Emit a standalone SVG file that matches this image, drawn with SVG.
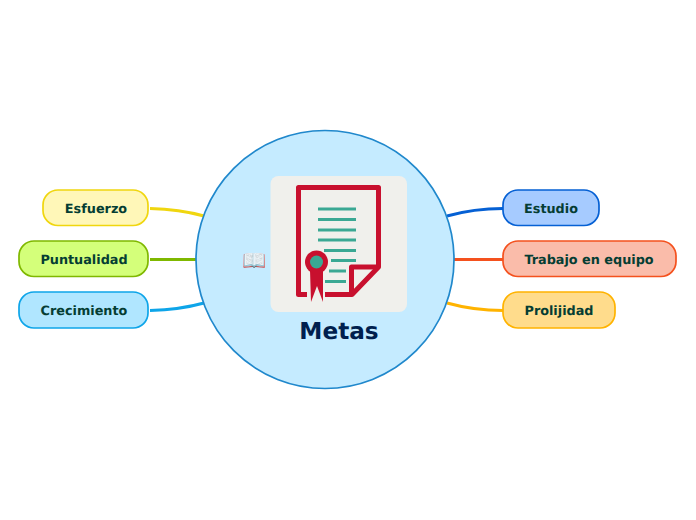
<svg xmlns="http://www.w3.org/2000/svg" width="696" height="520" viewBox="0 0 696 520">
<style>
.n{stroke-width:1.700}
.t{font-family:"DejaVu Sans",sans-serif;font-weight:700;font-size:12.800px;fill:#053d33;text-rendering:geometricPrecision}
.c{fill:none;stroke-width:3}
.l{stroke:#3aa893;stroke-width:2.800;fill:none}
</style>
<rect width="696" height="520" fill="#fff"/>
<g id="connectors">
<path class="c" stroke="#f0d60f" d="M150 208.500C170 209 186 211 204 216"/>
<path class="c" stroke="#7fb800" d="M150 259.500H197"/>
<path class="c" stroke="#0ea5e9" d="M150 310.500C170 310 186 308 204 303"/>
<path class="c" stroke="#0560d4" d="M447 216C465 211 482 208.500 503 208.500"/>
<path class="c" stroke="#f4511e" d="M454 259.500H503"/>
<path class="c" stroke="#ffb300" d="M447 303C465 308 482 310.500 503 310.500"/>
</g>
<g id="center">
<circle cx="325" cy="259.500" r="129" fill="#c5ebff" stroke="#2088cc" stroke-width="1.700"/>
<rect x="270.500" y="176" width="136.500" height="136" rx="8" fill="#f0f0ec"/>
<path d="M298.500 187.500H378.500V267L352 294.500H298.500Z" fill="none" stroke="#c8102e" stroke-width="5" stroke-linejoin="round"/>
<path d="M378.500 267H351.500V294.500" fill="none" stroke="#c8102e" stroke-width="5" stroke-linejoin="round"/>
<path class="l" d="M318 209H356M318 219.500H356M318 230H356M318 240H356M324 250.500H356M331 260.500H356M329 271H346M325 281.500H346"/>
<rect x="307" y="288" width="18" height="9" fill="#f0f0ec"/>
<path d="M310 270H323V302L317 286L311 302Z" fill="#c8102e"/>
<circle cx="316.500" cy="262" r="11.500" fill="#c8102e"/>
<circle cx="316.500" cy="262" r="6.500" fill="#3aa893"/>
<text x="255" y="266.500" font-size="19.500" text-anchor="middle" opacity="0.8" font-family="'Noto Color Emoji','DejaVu Sans',sans-serif">📖</text>
<text x="339" y="338.500" font-size="23.200" font-weight="700" fill="#001f4e" text-anchor="middle" font-family="'DejaVu Sans',sans-serif" text-rendering="geometricPrecision">Metas</text>
</g>
<g id="esfuerzo"><rect class="n" x="43" y="190" width="105" height="35.500" rx="15" fill="#fff7b8" stroke="#f0d60f"/><text class="t" x="96" y="213" text-anchor="middle">Esfuerzo</text></g>
<g id="puntualidad"><rect class="n" x="19" y="241" width="129" height="35.500" rx="15" fill="#d4ff7a" stroke="#7fb800"/><text class="t" x="84" y="264" text-anchor="middle">Puntualidad</text></g>
<g id="crecimiento"><rect class="n" x="19" y="292" width="129" height="36" rx="15" fill="#b0e6ff" stroke="#0ea5e9"/><text class="t" x="84" y="315" text-anchor="middle">Crecimiento</text></g>
<g id="estudio"><rect class="n" x="503" y="190" width="96" height="35.500" rx="15" fill="#a6cbff" stroke="#0560d4"/><text class="t" x="551" y="213" text-anchor="middle">Estudio</text></g>
<g id="trabajo"><rect class="n" x="503" y="241" width="173" height="35.500" rx="15" fill="#fabcaa" stroke="#f4511e"/><text class="t" x="589" y="264" text-anchor="middle">Trabajo en equipo</text></g>
<g id="prolijidad"><rect class="n" x="503" y="292" width="112" height="36" rx="15" fill="#ffdc8c" stroke="#ffb300"/><text class="t" x="559" y="315" text-anchor="middle">Prolijidad</text></g>
</svg>
